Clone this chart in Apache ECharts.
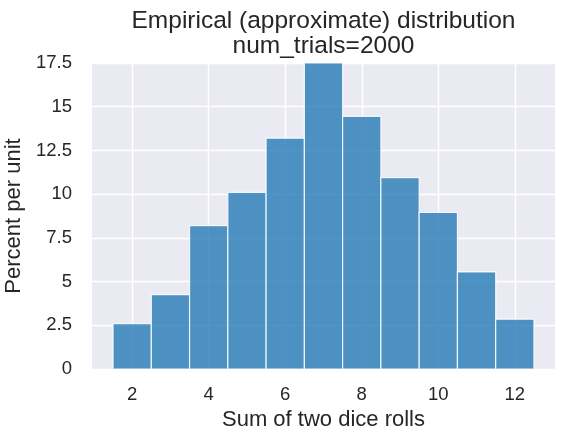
<!DOCTYPE html>
<html>
<head>
<meta charset="utf-8">
<script src="https://cdn.jsdelivr.net/npm/echarts@6/dist/echarts.min.js"></script>
<style>
html,body{margin:0;padding:0;background:#fff;}
#chart{width:565px;height:441px;}
</style>
</head>
<body>
<div id="chart"></div>
<script>
var sums = [2, 3, 4, 5, 6, 7, 8, 9, 10, 11, 12];
var percents = [2.6, 4.25, 8.2, 10.1, 13.2, 18.9, 14.45, 10.95, 8.95, 5.55, 2.85];
var xTicks = [2, 4, 6, 8, 10, 12];
var yTicks = [0, 2.5, 5, 7.5, 10, 12.5, 15, 17.5];
var binWidth = 1;

var data = sums.map(function (s, i) { return [s, percents[i]]; });
var FONT = '"Liberation Sans", Arial, sans-serif';
var TXT = '#262626';

var chart = echarts.init(document.getElementById('chart'));
chart.setOption({
  backgroundColor: '#ffffff',
  animation: false,
  title: {
    text: 'Empirical (approximate) distribution\nnum_trials=2000',
    left: 323.5,
    textAlign: 'center',
    top: 9,
    padding: 0,
    textStyle: { fontFamily: FONT, fontSize: 24.5, fontWeight: 'normal', color: TXT, lineHeight: 25 }
  },
  grid: {
    left: 92, right: 10, top: 63, bottom: 72,
    outerBoundsMode: 'none',
    containLabel: false,
    show: true, backgroundColor: '#eaeaf2', borderWidth: 0
  },
  xAxis: {
    type: 'value',
    min: 0.95, max: 13.05,
    name: 'Sum of two dice rolls',
    nameLocation: 'middle',
    nameGap: 40,
    nameTextStyle: { fontFamily: FONT, fontSize: 22, color: TXT },
    axisLine: { show: false },
    axisTick: { show: false, customValues: xTicks },
    axisLabel: { customValues: xTicks, fontFamily: FONT, fontSize: 18.5, color: TXT, margin: 16 },
    splitLine: { show: true, lineStyle: { color: '#ffffff', width: 1.4 } }
  },
  yAxis: {
    type: 'value',
    min: 0, max: 17.5, interval: 2.5,
    name: 'Percent per unit',
    nameLocation: 'middle',
    nameGap: 60,
    nameTextStyle: { fontFamily: FONT, fontSize: 22, color: TXT },
    axisLine: { show: false },
    axisTick: { show: false },
    axisLabel: { fontFamily: FONT, fontSize: 18.5, color: TXT, margin: 20,
      formatter: function (v) { return String(v); } },
    splitLine: { show: true, lineStyle: { color: '#ffffff', width: 1.4 } }
  },
  series: [{
    type: 'custom',
    clip: true,
    data: data,
    encode: { x: 0, y: 1 },
    renderItem: function (params, api) {
      var x = api.value(0), y = api.value(1);
      var p0 = api.coord([x - binWidth / 2, 0]);
      var p1 = api.coord([x + binWidth / 2, y]);
      var rect = echarts.graphic.clipRectByRect({
        x: p0[0], y: p1[1], width: p1[0] - p0[0], height: p0[1] - p1[1]
      }, {
        x: params.coordSys.x, y: params.coordSys.y,
        width: params.coordSys.width, height: params.coordSys.height
      });
      return rect && {
        type: 'rect',
        shape: rect,
        style: { fill: 'rgba(31,119,180,0.78)', stroke: 'rgba(255,255,255,0.85)', lineWidth: 1.2 }
      };
    }
  }]
});
</script>
</body>
</html>
